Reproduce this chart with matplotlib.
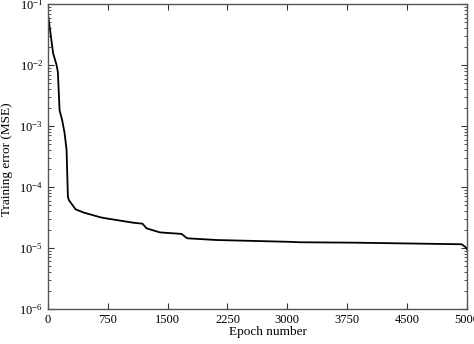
import matplotlib
matplotlib.use("Agg")
import matplotlib.pyplot as plt
from matplotlib.ticker import LogLocator, FixedLocator, NullFormatter

plt.rcParams['font.family'] = ['Liberation Serif', 'DejaVu Serif']
plt.rcParams['mathtext.fontset'] = 'stix'

# Data (x in axis units; right edge labelled 5000)
epochs = [0, 66, 109, 125, 147, 179, 209, 234, 251, 263, 347, 451, 652, 702,
          1065, 1186, 1236, 1403, 1675, 1745, 2113, 3032, 3158, 3868, 4786,
          5183, 5235, 5250]
mse = [7.0e-2, 1.56e-2, 1.0e-2, 7.7e-3, 1.8e-3, 1.25e-3, 7.7e-4, 4.1e-4,
       6.9e-5, 6.1e-5, 4.3e-5, 3.8e-5, 3.2e-5, 3.1e-5,
       2.6e-5, 2.5e-5, 2.1e-5, 1.8e-5, 1.7e-5, 1.44e-5, 1.35e-5, 1.26e-5,
       1.24e-5, 1.22e-5, 1.17e-5, 1.15e-5, 1.03e-5, 9.5e-6]

xtick_pos = [0, 750, 1500, 2250, 3000, 3750, 4500, 5250]
xtick_labels = ["0", "750", "1500", "2250", "3000", "3750", "4500", "5000"]

fig = plt.figure(figsize=(4.74, 3.44), dpi=100)
ax = fig.add_axes([0.101, 0.102, 0.884, 0.886])

ax.plot(epochs, mse, color='black', linewidth=1.3)
ax.set_yscale('log')
ax.set_xlim(0, 5250)
ax.set_ylim(1e-6, 1e-1)

ax.xaxis.set_major_locator(FixedLocator(xtick_pos))
ax.set_xticklabels(xtick_labels)
ax.yaxis.set_major_locator(LogLocator(base=10, numticks=10))
ax.yaxis.set_minor_locator(LogLocator(base=10, subs=range(2, 10), numticks=20))
ax.yaxis.set_minor_formatter(NullFormatter())

ax.tick_params(axis='both', which='both', direction='in', top=True, right=True,
               labelsize=9, colors='#333333', labelcolor='black')
ax.tick_params(axis='both', which='major', length=4, width=0.8)
ax.tick_params(axis='y', which='minor', length=2, width=0.6)

for s in ax.spines.values():
    s.set_color('#555555')
    s.set_linewidth(1.0)

ax.set_xlabel('Epoch number', fontsize=9.5)
ax.xaxis.set_label_coords(0.525, -0.055)
ax.set_ylabel('Training error (MSE)', fontsize=9.5)
ax.yaxis.set_label_coords(-0.083, 0.49)

fig.savefig('out.png', dpi=100)
